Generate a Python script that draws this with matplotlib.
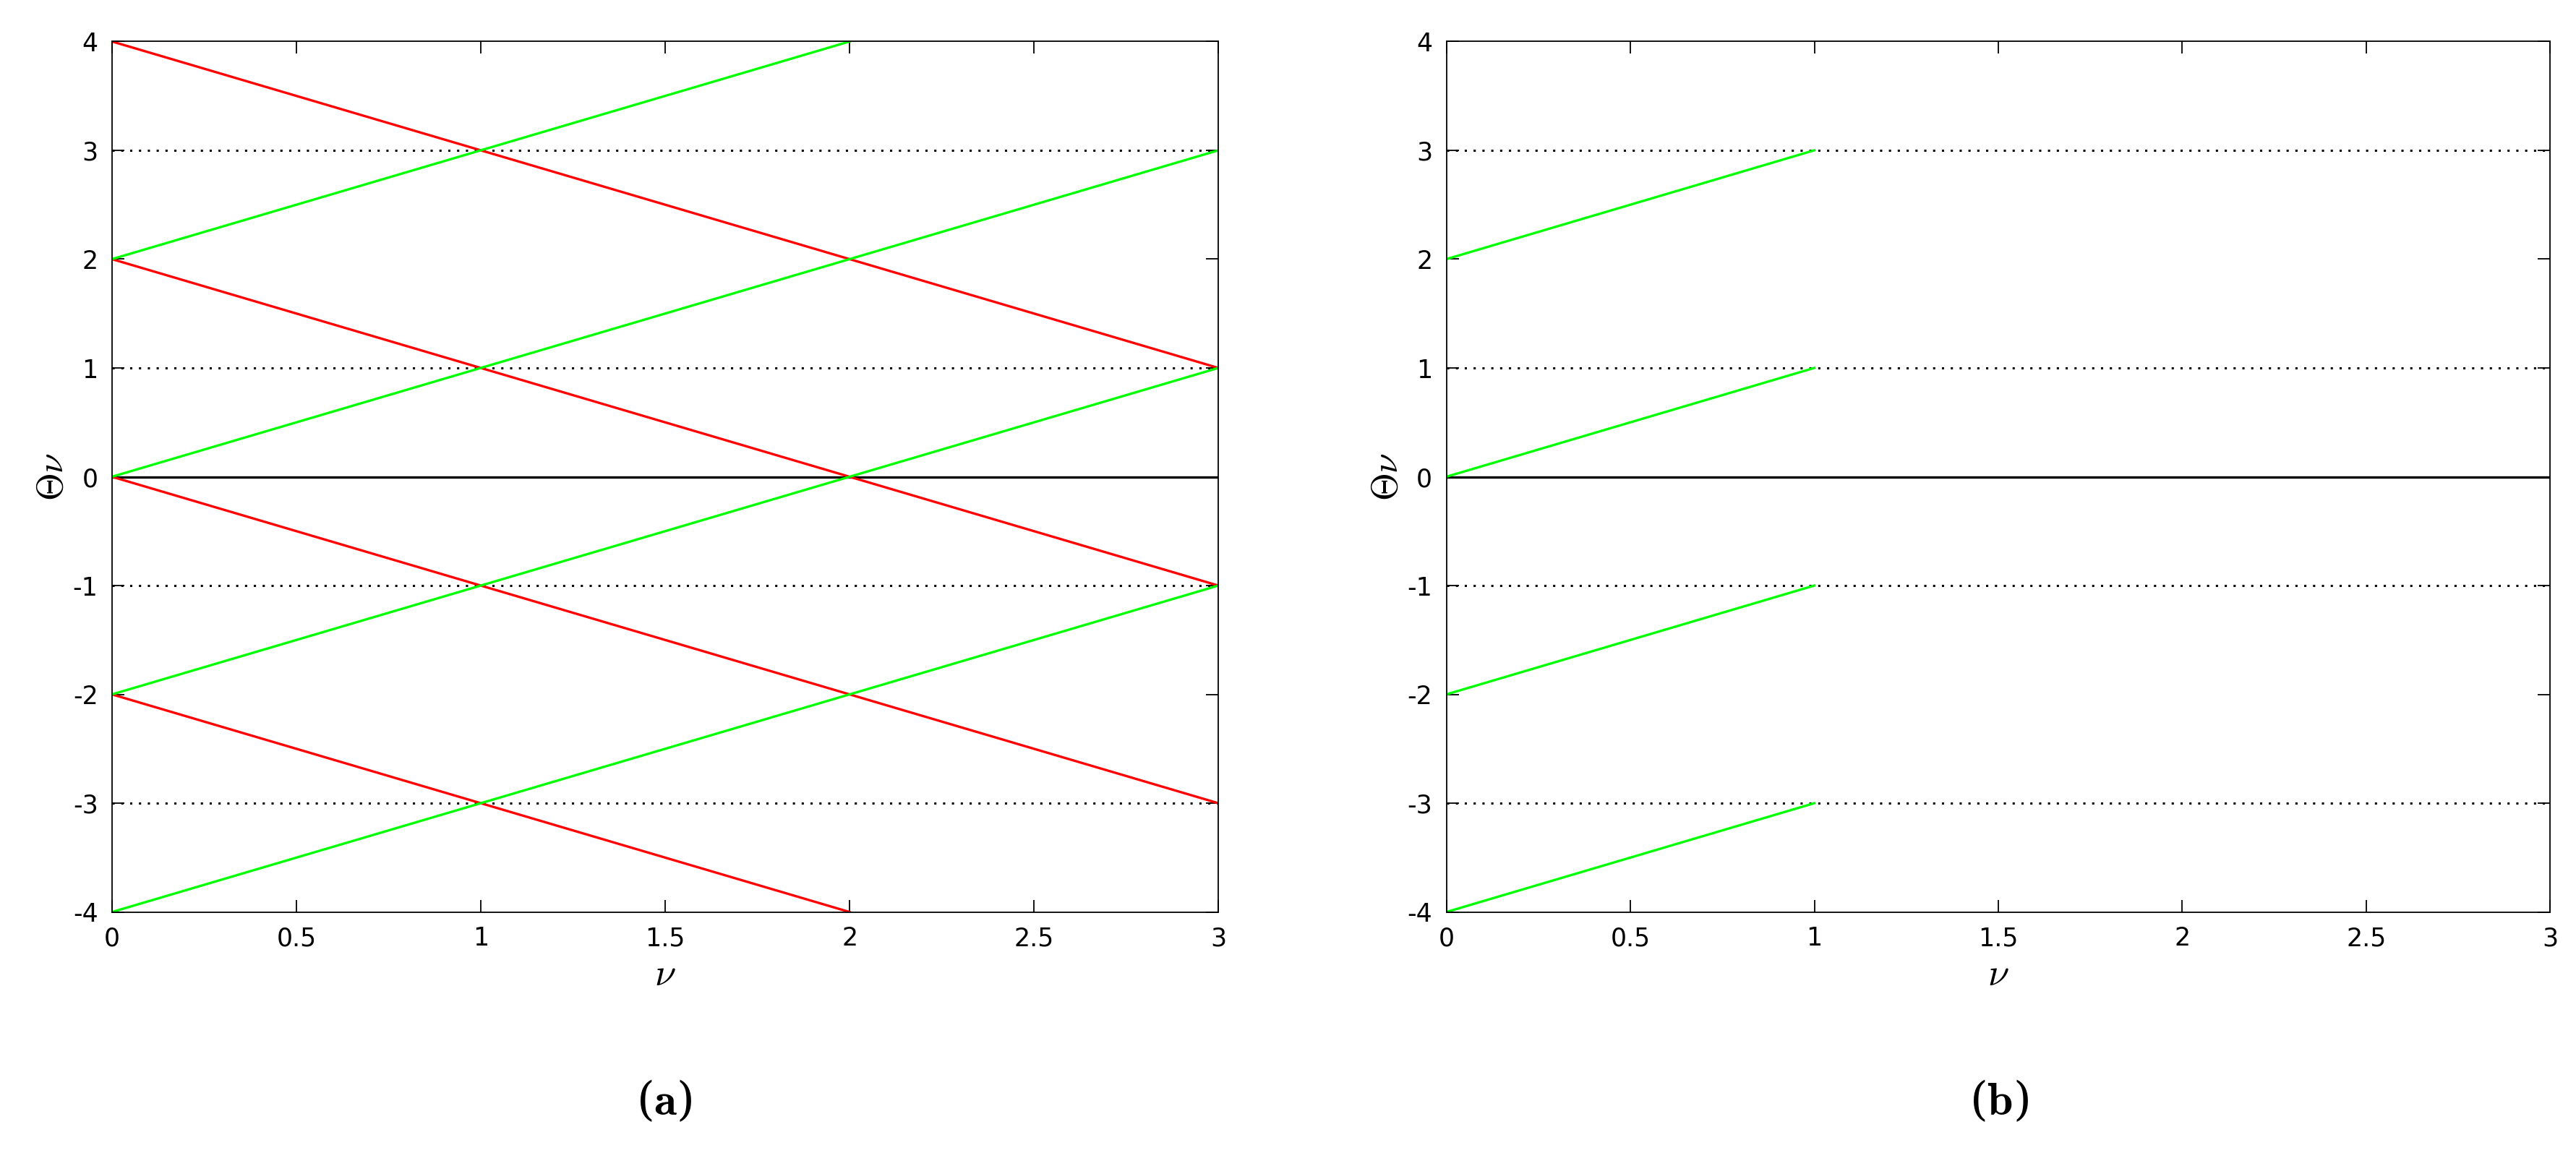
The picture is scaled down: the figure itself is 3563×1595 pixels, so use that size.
import matplotlib.pyplot as plt

# panel (a): line segments as (x0, y0, x1, y1)
red_a = [(0, 4, 3, 1), (0, 2, 3, -1), (0, 0, 3, -3), (0, -2, 2, -4)]
green_a = [(0, 2, 2, 4), (0, 0, 3, 3), (0, -2, 3, 1), (0, -4, 3, -1)]
# panel (b)
green_b = [(0, 2, 1, 3), (0, 0, 1, 1), (0, -2, 1, -1), (0, -4, 1, -3)]

dotted_levels = [3, 1, -1, -3]
xticks = [0, 0.5, 1, 1.5, 2, 2.5, 3]
xticklabels = ['0', '0.5', '1', '1.5', '2', '2.5', '3']
yticks = [-4, -3, -2, -1, 0, 1, 2, 3, 4]
yticklabels = ['-4', '-3', '-2', '-1', '0', '1', '2', '3', '4']

plt.rcParams['font.family'] = ['DejaVu Serif']
plt.rcParams['mathtext.fontset'] = 'cm'

fig = plt.figure(figsize=(35.63, 15.95), dpi=100)
ax1 = fig.add_axes([0.0435, 0.209, 0.4295, 0.755])
ax2 = fig.add_axes([0.5615, 0.209, 0.4285, 0.755])


def setup(ax, segs):
    for lvl in dotted_levels:
        ax.axhline(lvl, color='black', linestyle=(0, (1, 3)), linewidth=2.2)
    ax.axhline(0, color='black', linewidth=2.4)
    for color, lst in segs:
        for x0, y0, x1, y1 in lst:
            ax.plot([x0, x1], [y0, y1], color=color, linewidth=2.4)
    ax.set_xlim(0, 3)
    ax.set_ylim(-4, 4)
    ax.set_xticks(xticks)
    ax.set_xticklabels(xticklabels, family='DejaVu Sans')
    ax.set_yticks(yticks)
    ax.set_yticklabels(yticklabels, family='DejaVu Sans')
    ax.tick_params(direction='in', top=True, right=True, length=12, width=1.3,
                   labelsize=25, pad=14)
    for s in ax.spines.values():
        s.set_linewidth(1.3)
    ax.set_xlabel(r'$\nu$', fontsize=38, labelpad=6)
    ax.set_ylabel(r'$\Theta\nu$', fontsize=36, labelpad=2)


setup(ax1, [('#ff0000', red_a), ('#00ff00', green_a)])
setup(ax2, [('#00ff00', green_b)])

fig.text(0.258, 0.045, r'($\mathbf{a}$)', ha='center', va='center', fontsize=46)
fig.text(0.776, 0.045, r'($\mathbf{b}$)', ha='center', va='center', fontsize=46)

fig.savefig('out.png', dpi=100)
